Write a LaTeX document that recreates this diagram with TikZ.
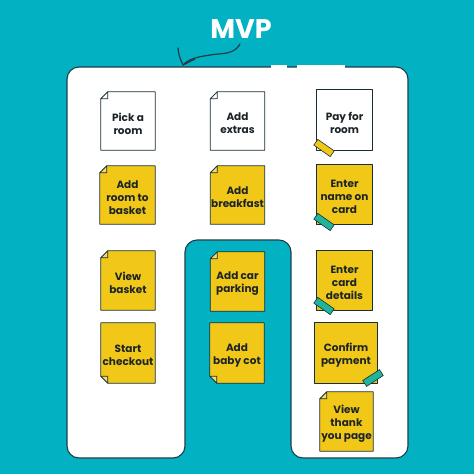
\documentclass[tikz,border=0pt]{standalone}
\usepackage{fontspec}
\setmainfont{Poppins}
\usetikzlibrary{calc}
\definecolor{bgteal}{HTML}{02B2C3}
\definecolor{edge}{HTML}{1E3B48}
\definecolor{sticky}{HTML}{F1C817}
\definecolor{stickyfold}{HTML}{F5D865}
\definecolor{tapeteal}{HTML}{22B39B}
\definecolor{ink}{HTML}{1D2428}
\pgfdeclarelayer{bg}
\pgfdeclarelayer{notes}
\pgfsetlayers{bg,notes,main}
\tikzset{
  panel/.style={draw=edge, line width=1.1pt, fill=white, rounded corners=12pt},
  notebox/.style={inner sep=0pt, minimum width=54pt, minimum height=58pt},
  notelabel/.style={inner sep=0pt, align=center, text=ink,
     font=\bfseries\fontsize{10.5}{13}\selectfont},
  notebody/.style={draw=edge!80!black, line width=0.7pt, line join=round},
  tapebox/.style={draw=edge!80!black, line width=0.6pt, minimum width=20pt, minimum height=7pt, inner sep=0pt},
  arrowline/.style={draw=edge, line width=1.2pt, line cap=round, line join=round}
}
% name, cx, cy, width, height, text
\newcommand\stickynote[6]{%
\node[notebox, minimum width=#4pt, minimum height=#5pt] (#1) at (#2,#3) {};
\node[notelabel] (#1-text) at ($(#1.center)+(0,2.5)$) {#6};}
\newcommand\foldtl[2]{%
\begin{pgfonlayer}{notes}
\filldraw[notebody,fill=#2] ($(#1.north west)+(0,7)$) -- ($(#1.north west)+(7,0)$) -- (#1.north east) -- (#1.south east) -- (#1.south west) -- cycle;
\filldraw[notebody,fill=#2fold] ($(#1.north west)+(0,7)$) -- ($(#1.north west)+(7,0)$) -- ($(#1.north west)+(7,7)$) -- cycle;
\end{pgfonlayer}}
\newcommand\foldbl[2]{%
\begin{pgfonlayer}{notes}
\filldraw[notebody,fill=#2] ($(#1.south west)+(0,-7)$) -- ($(#1.south west)+(7,0)$) -- (#1.south east) -- (#1.north east) -- (#1.north west) -- cycle;
\filldraw[notebody,fill=#2fold] ($(#1.south west)+(0,-7)$) -- ($(#1.south west)+(7,0)$) -- ($(#1.south west)+(7,-7)$) -- cycle;
\end{pgfonlayer}}
\newcommand\plainnote[2]{%
\begin{pgfonlayer}{notes}
\filldraw[notebody,fill=#2] (#1.north west) rectangle (#1.south east);
\end{pgfonlayer}}
\colorlet{whitefold}{white}
\begin{document}
\begin{tikzpicture}[x=1pt,y=-1pt]
\useasboundingbox (0,0) rectangle (474,474);
\begin{pgfonlayer}{bg}
\fill[bgteal] (0,0) rectangle (474,474);
\draw[panel] (67,458) -- (67,67) -- (408,67) -- (408,458) -- (291,458) -- (291,240) -- (185,240) -- (185,458) -- cycle;
\fill[white] (271,64.5) rectangle (287,68.6);
\fill[white] (297,64.5) rectangle (345,68.6);
\end{pgfonlayer}

\node[font=\bfseries\fontsize{27}{30}\selectfont, text=white, inner sep=0pt] (mvp) at (241,29) {MVP};
\coordinate (arrowstart) at (240,44);
\coordinate (arrowtip) at (183,65);
\draw[arrowline] (arrowstart) .. controls (234,55) and (222,53) .. (210,55) .. controls (198,57) and (190,58) .. (arrowtip);
\draw[arrowline] (178,48) .. controls (179,56) .. (arrowtip) -- (195,59);

% row 1
\stickynote{pick}{128}{121}{54}{58}{Pick a\\room}
\foldtl{pick}{white}
\stickynote{extras}{237.5}{121}{54}{58}{Add\\extras}
\foldtl{extras}{white}
\stickynote{pay}{344.5}{120}{55}{60}{Pay for\\room}
\plainnote{pay}{white}
\node[tapebox, fill=sticky, rotate=-35] (tape1) at (324,148) {};

% row 2
\stickynote{addroom}{127.5}{195}{55}{58}{Add\\room to\\basket}
\foldtl{addroom}{sticky}
\stickynote{breakfast}{237.5}{195}{54}{58}{Add\\breakfast}
\foldtl{breakfast}{sticky}
\stickynote{name}{344.5}{194.5}{55}{59}{Enter\\name on\\card}
\plainnote{name}{sticky}
\node[tapebox, fill=tapeteal, rotate=-35] (tape2) at (324,222) {};

% row 3
\stickynote{viewbasket}{128}{280.5}{54}{59}{View\\basket}
\foldtl{viewbasket}{sticky}
\stickynote{parking}{237.5}{281.5}{54}{59}{Add car\\parking}
\foldtl{parking}{sticky}
\stickynote{carddetails}{344.5}{280.5}{55}{59}{Enter\\card\\details}
\plainnote{carddetails}{sticky}
\node[tapebox, fill=tapeteal, rotate=-35] (tape3) at (324,306) {};

% row 4
\stickynote{checkout}{128}{353}{54}{60}{Start\\checkout}
\foldbl{checkout}{sticky}
\stickynote{babycot}{237}{353}{54}{60}{Add\\baby cot}
\foldbl{babycot}{sticky}
\stickynote{confirm}{346}{353}{62}{60}{Confirm\\payment}
\plainnote{confirm}{sticky}
\node[tapebox, fill=tapeteal, rotate=33] (tape4) at (373,378) {};

% row 5
\stickynote{thankyou}{346.5}{421.5}{53}{59}{View\\thank\\you page}
\foldtl{thankyou}{sticky}
\end{tikzpicture}
\end{document}
